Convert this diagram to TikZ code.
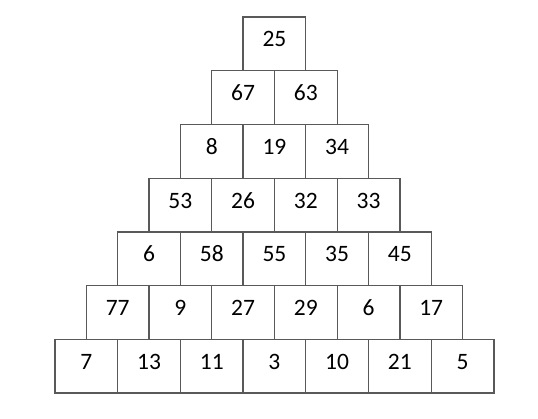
\documentclass[tikz,border=0pt]{standalone}
\usepackage{fontspec}
\setmainfont{Carlito}
\usetikzlibrary{positioning}

\begin{document}
\begin{tikzpicture}[
					x = 1pt, y = 1pt,
					cell/.style = {draw = black!65, line width = 1.3pt,
						minimum width = 62.7pt, minimum height = 53.7pt, inner sep = 0pt,
						text height = 15pt, text depth = 9pt,
						font = \fontsize{23.5}{24}\selectfont},
					]

					\useasboundingbox (0,0) rectangle (538,418);

					\def\w{62.7}
					\def\h{53.7}
					\def\xo{55}
					\def\yo{25}

					\foreach \r/\vals in {0/{7,13,11,3,10,21,5},
						1/{77,9,27,29,6,17},
						2/{6,58,55,35,45},
						3/{53,26,32,33},
						4/{8,19,34},
						5/{67,63},
						6/{25}}{
						\foreach \v [count=\i from 0] in \vals {
							\node[cell] (c-\r-\i) at ({\xo+\r*\w/2+(\i+0.5)*\w},{\yo+(\r+0.5)*\h}) {\v};
						}
					}

				\end{tikzpicture}
\end{document}
